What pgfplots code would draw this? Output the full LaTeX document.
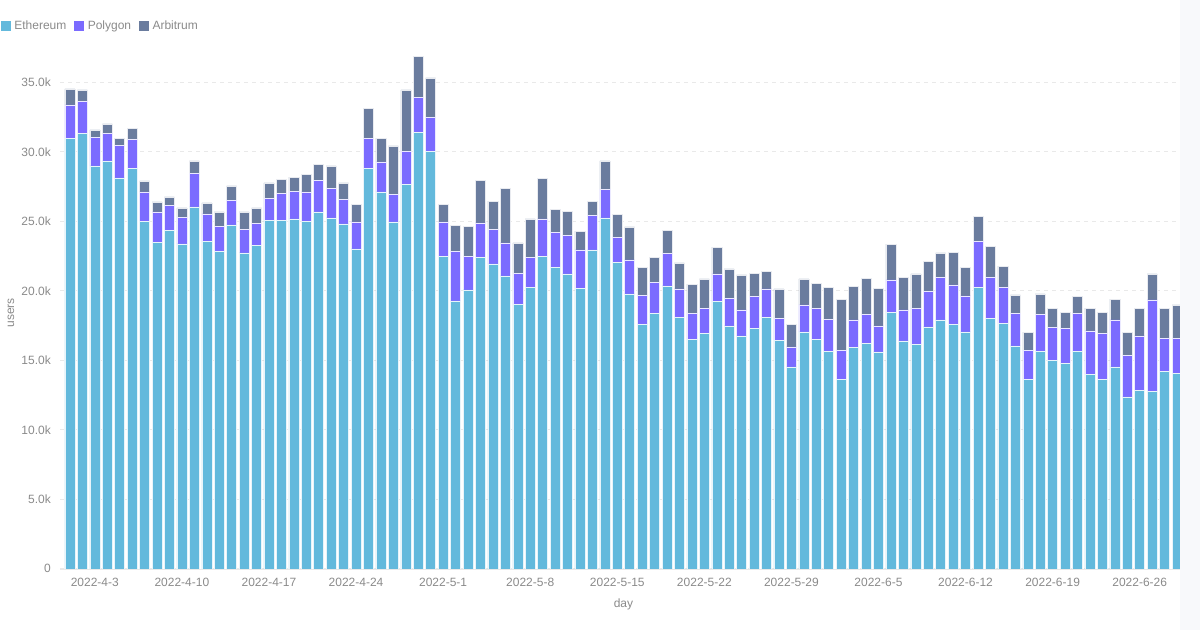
\documentclass[border=0pt]{standalone}
\usepackage{fontspec}
\setmainfont{Liberation Sans}
\usepackage{pgfplots}
\usepackage{pgfplotstable}
\pgfplotsset{compat=1.18}

\definecolor{eth}{HTML}{63B9DC}
\definecolor{poly}{HTML}{7B6BFF}
\definecolor{arb}{HTML}{6A7C9E}
\definecolor{txt}{HTML}{8A8A8A}
\definecolor{grd}{HTML}{E9E9E9}
\definecolor{strip}{HTML}{F8F9FB}

% daily users, in thousands (2022-4-1 .. 2022-6-29)
\pgfplotstableread{
x eth poly arb
0 30.99 2.38 1.15
1 31.35 2.26 0.84
2 28.98 2.04 0.55
3 29.34 2.01 0.65
4 28.12 2.35 0.52
5 28.83 2.09 0.79
6 25.02 2.09 0.79
7 23.51 2.16 0.72
8 24.37 1.78 0.60
9 23.37 1.92 0.67
10 26.03 2.42 0.89
11 23.58 1.95 0.79
12 22.86 1.80 1.01
13 24.74 1.79 1.01
14 22.72 1.70 1.25
15 23.29 1.56 1.11
16 25.09 1.58 1.09
17 25.09 1.92 1.03
18 25.17 1.98 1.03
19 25.02 2.09 1.29
20 25.67 2.30 1.15
21 25.24 2.15 1.59
22 24.81 1.77 1.18
23 23.01 1.94 1.29
24 28.83 2.16 2.16
25 27.11 2.16 1.72
26 24.95 2.01 3.46
27 27.68 2.37 4.40
28 31.42 2.47 2.95
29 30.05 2.45 2.81
30 22.50 2.45 1.29
31 19.27 3.55 1.91
32 20.06 2.44 2.16
33 22.43 2.45 3.09
34 21.93 2.51 2.02
35 21.07 2.37 3.95
36 19.05 2.18 2.21
37 20.27 2.16 2.74
38 22.50 2.67 2.94
39 21.71 2.52 1.65
40 21.21 2.80 1.73
41 20.20 2.74 1.36
42 22.94 2.51 1.01
43 25.24 2.08 2.02
44 22.07 1.80 1.65
45 19.77 2.45 2.37
46 17.60 2.07 2.04
47 18.40 2.23 1.80
48 20.35 2.36 1.66
49 18.11 2.02 1.87
50 16.53 1.84 2.11
51 16.96 1.80 2.09
52 19.26 1.95 1.94
53 17.47 2.01 2.09
54 16.75 1.87 2.52
55 17.32 2.30 1.66
56 18.11 2.02 1.29
57 16.46 1.58 2.09
58 14.52 1.44 1.64
59 17.04 1.94 1.87
60 16.53 2.22 1.80
61 15.66 2.30 2.30
62 13.65 2.08 3.68
63 15.95 1.95 2.44
64 16.24 2.08 2.60
65 15.60 1.87 2.72
66 18.47 2.31 2.58
67 16.39 2.23 2.37
68 16.17 2.58 2.46
69 17.40 2.58 2.16
70 17.90 3.09 1.73
71 17.61 2.81 2.37
72 17.04 2.59 2.08
73 20.27 3.31 1.80
74 18.04 2.95 2.23
75 17.68 2.59 1.51
76 16.03 2.37 1.30
77 13.65 2.08 1.30
78 15.66 2.67 1.44
79 15.02 2.37 1.37
80 14.80 2.52 1.15
81 15.66 2.74 1.22
82 14.01 3.10 1.65
83 13.65 3.31 1.51
84 14.52 3.38 1.51
85 12.36 3.02 1.65
86 12.86 3.89 2.01
87 12.79 6.55 1.87
88 14.23 2.37 2.16
89 14.08 2.52 2.38
}\usersdata

\begin{document}
\begin{tikzpicture}[font=\fontsize{12}{14}\selectfont]
\begin{axis}[
    at={(60pt,61.2pt)}, anchor=south west,
    scale only axis,
    width=1127pt, height=521.25pt,
    xmin=-0.8, xmax=89.8,
    ymin=0, ymax=37.5,
    ybar stacked,
    bar width=10pt,
    axis x line=bottom,
    axis y line=left,
    x axis line style={draw=grd, -},
    y axis line style={draw=none},
    major tick length=0pt,
    xtick={2,9,16,23,30,37,44,51,58,65,72,79,86},
    xticklabels={2022-4-3,2022-4-10,2022-4-17,2022-4-24,2022-5-1,2022-5-8,2022-5-15,2022-5-22,2022-5-29,2022-6-5,2022-6-12,2022-6-19,2022-6-26},
    ytick={0,5,10,15,20,25,30,35},
    yticklabels={0,5.0k,10.0k,15.0k,20.0k,25.0k,30.0k,35.0k},
    /pgf/number format/assume math mode=true,
    xticklabel style={text=txt, anchor=base, yshift=-17.2pt, inner sep=0pt},
    yticklabel style={text=txt, anchor=east, xshift=-9pt, inner sep=0pt},
    ymajorgrids,
    grid style={draw=grd, dash pattern=on 4pt off 4pt, line width=0.8pt},
    xlabel={day},
    ylabel={users},
    xlabel style={text=txt, anchor=base, at={(axis description cs:0.5,-0.075)}},
    ylabel style={text=txt, anchor=center, at={(axis description cs:-0.0435,0.491)}},
    legend columns=-1,
    legend style={at={(axis description cs:-0.0524,1.0415)}, anchor=west,
        draw=none, fill=none, inner sep=0pt, outer sep=0pt,
        text=txt,
        nodes={inner sep=0pt},
        /tikz/every odd column/.append style={column sep=4pt},
        /tikz/every even column/.append style={column sep=8pt}},
]
\addlegendimage{legend image code/.code={\fill[eth] (0pt,-4.5pt) rectangle (9pt,4.5pt);}}
\addlegendimage{legend image code/.code={\fill[poly] (0pt,-4.5pt) rectangle (9pt,4.5pt);}}
\addlegendimage{legend image code/.code={\fill[arb] (0pt,-4.5pt) rectangle (9pt,4.5pt);}}
\addplot[fill=eth, draw=white!85!eth, line width=0.5pt] table[x=x, y=eth] {\usersdata};
\addplot[fill=poly, draw=white!85!poly, line width=0.5pt] table[x=x, y=poly] {\usersdata};
\addplot[fill=arb, draw=white!85!arb, line width=0.5pt] table[x=x, y=arb] {\usersdata};
\legend{Ethereum,Polygon,Arbitrum}
\end{axis}
\fill[strip] (1180pt,0pt) rectangle (1200pt,630pt);
\pgfresetboundingbox
\useasboundingbox (0pt,0pt) rectangle (1200pt,630pt);
\end{tikzpicture}
\end{document}
